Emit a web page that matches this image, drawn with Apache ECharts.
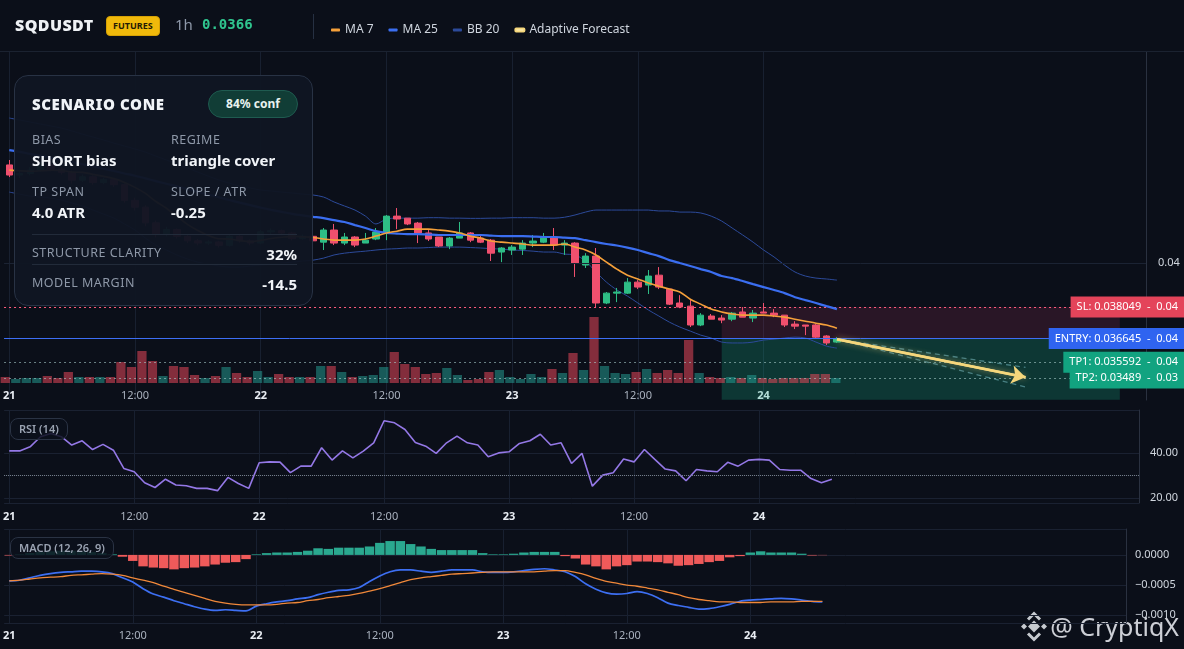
<!DOCTYPE html>
<html>
<head>
<meta charset="utf-8">
<script src="https://cdn.jsdelivr.net/npm/echarts@6/dist/echarts.min.js"></script>
<style>
html, body { margin: 0; padding: 0; background: #0b0f19; }
#wrap { position: relative; width: 1184px; height: 649px; overflow: hidden; font-family: "Noto Sans", "Open Sans", sans-serif; }
#chart { position: absolute; left: 0; top: 0; width: 1184px; height: 649px; }
.ov { position: absolute; pointer-events: none; white-space: nowrap; }
.hdr { left: 0; top: 0; width: 1184px; height: 51px; border-bottom: 1px solid #1b2230; }
.sym { left: 15px; top: 14px; font-size: 16px; font-weight: 900; color: #eef1f5; letter-spacing: 0.4px; }
.badge { left: 106px; top: 16px; height: 18px; line-height: 18px; padding: 0 6px; background: #f0b90b; color: #231b04; font-size: 9px; font-weight: 700; border-radius: 4px; border: 1px solid #d6a104; }
.tf { left: 175px; top: 14px; font-size: 15px; color: #8d97a8; }
.px { left: 202px; top: 16px; font-size: 14px; font-weight: 700; color: #2fc58e; font-family: "DejaVu Sans Mono", monospace; }
.sep { left: 313px; top: 14px; width: 1px; height: 25px; background: #263042; }
.panel { left: 14px; top: 75px; width: 297px; height: 229px; background: rgba(16,22,35,0.97); border: 1px solid #283244; border-radius: 14px; }
.panel div { position: absolute; white-space: nowrap; }
.ttl { left: 17px; top: 18px; font-size: 15px; font-weight: 900; color: #f1f4f8; letter-spacing: 0.6px; }
.pill { left: 193px; top: 14px; width: 88px; height: 26px; line-height: 26px; text-align: center; border-radius: 14px; background: #113d36; border: 1px solid #1f5b50; color: #e8f2ef; font-size: 12px; font-weight: 700; }
.lab { font-size: 12.5px; color: #8e98a8; letter-spacing: 0.5px; }
.val { font-size: 15px; font-weight: 700; color: #f1f4f8; }
.rule { left: 17px; width: 265px; height: 1px; background: #222b3a; }
.tag { height: 20px; line-height: 20px; padding: 0 8px; border: 1px solid #2a3344; border-radius: 8px; background: rgba(12,17,28,0.85); color: #9aa3b2; font-size: 11px; font-weight: 600; }
</style>
</head>
<body>
<div id="wrap">
  <div id="chart"></div>
  <div class="ov hdr"></div>
  <div class="ov sym">SQDUSDT</div>
  <div class="ov badge">FUTURES</div>
  <div class="ov tf">1h</div>
  <div class="ov px">0.0366</div>
  <div class="ov sep"></div>
  <div class="ov panel">
    <div class="ttl">SCENARIO CONE</div>
    <div class="pill">84% conf</div>
    <div class="lab" style="left:17px;top:55px">BIAS</div>
    <div class="lab" style="left:156px;top:55px">REGIME</div>
    <div class="val" style="left:17px;top:74px">SHORT bias</div>
    <div class="val" style="left:156px;top:74px">triangle cover</div>
    <div class="lab" style="left:17px;top:107px">TP SPAN</div>
    <div class="lab" style="left:156px;top:107px">SLOPE / ATR</div>
    <div class="val" style="left:17px;top:126px">4.0 ATR</div>
    <div class="val" style="left:156px;top:126px">-0.25</div>
    <div class="rule" style="top:158px"></div>
    <div class="lab" style="left:17px;top:168px">STRUCTURE CLARITY</div>
    <div class="val" style="right:15px;top:168px">32%</div>
    <div class="rule" style="top:188px"></div>
    <div class="lab" style="left:17px;top:198px">MODEL MARGIN</div>
    <div class="val" style="right:15px;top:198px">-14.5</div>
  </div>
  <div class="ov tag" style="left:10px;top:418px">RSI (14)</div>
  <div class="ov tag" style="left:10px;top:537px">MACD (12, 26, 9)</div>
</div>
<script>
// time axis: 1h slots from 21 00:00, labels every 12h
var dayTicks = ['21', '12:00', '22', '12:00', '23', '12:00', '24'];
var slotCount = 109;

var opens = [
    0.04438, 0.04393, 0.04400, 0.04415, 0.04440, 0.04420, 0.04405, 0.04370, 0.04385, 0.04360,
    0.04372, 0.04350, 0.04280, 0.04250, 0.04180, 0.04130, 0.04150, 0.04120, 0.04100, 0.04090,
    0.04095, 0.04080, 0.04120, 0.04100, 0.04090, 0.04140, 0.04145, 0.04135, 0.04110, 0.04120,
    0.04094, 0.04148, 0.04090, 0.04117, 0.04090, 0.04108, 0.04135, 0.04210, 0.04201, 0.04179,
    0.04135, 0.04117, 0.04077, 0.04112, 0.04135, 0.04112, 0.04103, 0.04050, 0.04059, 0.04063,
    0.04090, 0.04094, 0.04117, 0.04081, 0.04090, 0.03992, 0.04032, 0.03823, 0.03867, 0.03867,
    0.03916, 0.03903, 0.03947, 0.03885, 0.03823, 0.03809, 0.03725, 0.03765, 0.03756, 0.03751,
    0.03783, 0.03756, 0.03783, 0.03778, 0.03769, 0.03729, 0.03725, 0.03725, 0.03676, 0.03649
];
var closes = [
    0.04393, 0.04400, 0.04415, 0.04440, 0.04420, 0.04405, 0.04370, 0.04385, 0.04360, 0.04372,
    0.04350, 0.04280, 0.04250, 0.04180, 0.04130, 0.04150, 0.04120, 0.04100, 0.04090, 0.04095,
    0.04080, 0.04120, 0.04100, 0.04090, 0.04140, 0.04145, 0.04135, 0.04110, 0.04120, 0.04100,
    0.04148, 0.04090, 0.04117, 0.04081, 0.04103, 0.04139, 0.04210, 0.04197, 0.04175, 0.04135,
    0.04108, 0.04077, 0.04112, 0.04135, 0.04103, 0.04094, 0.04045, 0.04068, 0.04072, 0.04090,
    0.04099, 0.04112, 0.04081, 0.04090, 0.04001, 0.04032, 0.03823, 0.03867, 0.03872, 0.03916,
    0.03894, 0.03943, 0.03894, 0.03818, 0.03805, 0.03725, 0.03769, 0.03751, 0.03747, 0.03778,
    0.03760, 0.03778, 0.03778, 0.03769, 0.03725, 0.03720, 0.03720, 0.03671, 0.03645, 0.03665
];
var lows = [
    0.04384, 0.04380, 0.04392, 0.04408, 0.04410, 0.04395, 0.04355, 0.04362, 0.04350, 0.04352,
    0.04340, 0.04270, 0.04235, 0.04165, 0.04115, 0.04120, 0.04110, 0.04090, 0.04080, 0.04082,
    0.04070, 0.04075, 0.04092, 0.04080, 0.04085, 0.04130, 0.04125, 0.04102, 0.04105, 0.04092,
    0.04059, 0.04081, 0.04081, 0.04072, 0.04090, 0.04103, 0.04103, 0.04152, 0.04170, 0.04090,
    0.04099, 0.04072, 0.04063, 0.04112, 0.04094, 0.04090, 0.04010, 0.04005, 0.04037, 0.04037,
    0.04072, 0.04090, 0.04059, 0.04037, 0.03939, 0.03979, 0.03805, 0.03818, 0.03827, 0.03863,
    0.03885, 0.03863, 0.03885, 0.03814, 0.03800, 0.03716, 0.03720, 0.03751, 0.03733, 0.03742,
    0.03760, 0.03738, 0.03778, 0.03760, 0.03716, 0.03707, 0.03680, 0.03667, 0.03636, 0.03645
];
var highs = [
    0.04460, 0.04412, 0.04428, 0.04452, 0.04455, 0.04428, 0.04412, 0.04395, 0.04392, 0.04380,
    0.04378, 0.04355, 0.04292, 0.04258, 0.04190, 0.04162, 0.04155, 0.04128, 0.04108, 0.04102,
    0.04100, 0.04128, 0.04125, 0.04106, 0.04148, 0.04155, 0.04150, 0.04140, 0.04128, 0.04125,
    0.04157, 0.04175, 0.04135, 0.04121, 0.04135, 0.04157, 0.04215, 0.04246, 0.04201, 0.04184,
    0.04148, 0.04117, 0.04117, 0.04184, 0.04139, 0.04126, 0.04108, 0.04072, 0.04081, 0.04103,
    0.04126, 0.04135, 0.04157, 0.04103, 0.04094, 0.04045, 0.04068, 0.03872, 0.03890, 0.03934,
    0.03925, 0.03970, 0.03983, 0.03885, 0.03858, 0.03836, 0.03778, 0.03774, 0.03769, 0.03783,
    0.03805, 0.03792, 0.03823, 0.03796, 0.03769, 0.03742, 0.03725, 0.03729, 0.03680, 0.03671
];
var volumes = [
    6, 4, 5, 5, 7, 5, 11, 6, 6, 6,
    6, 21, 16, 32, 22, 7, 17, 16, 8, 5,
    7, 16, 10, 6, 12, 6, 9, 6, 6, 6,
    17, 17, 11, 6, 7, 8, 16, 31, 19, 16,
    9, 10, 15, 8, 3, 4, 11, 13, 6, 4,
    9, 6, 14, 10, 30, 13, 66, 17, 10, 9,
    11, 14, 10, 13, 10, 43, 10, 6, 5, 6,
    5, 8, 5, 4, 5, 5, 5, 9, 9, 5
];
var ma7 = [
    0.04415, 0.04412, 0.04410, 0.04412, 0.04414, 0.04413, 0.04406, 0.04405, 0.04396, 0.04387,
    0.04377, 0.04360, 0.04338, 0.04311, 0.04275, 0.04245, 0.04209, 0.04173, 0.04146, 0.04124,
    0.04109, 0.04108, 0.04101, 0.04096, 0.04102, 0.04110, 0.04116, 0.04120, 0.04118, 0.04115,
    0.04108, 0.04103, 0.04103, 0.04103, 0.04108, 0.04121, 0.04135, 0.04143, 0.04152, 0.04152,
    0.04152, 0.04148, 0.04143, 0.04135, 0.04121, 0.04112, 0.04099, 0.04094, 0.04090, 0.04086,
    0.04081, 0.04081, 0.04081, 0.04086, 0.04072, 0.04059, 0.04037, 0.04005, 0.03974, 0.03947,
    0.03930, 0.03912, 0.03898, 0.03885, 0.03872, 0.03840, 0.03818, 0.03796, 0.03783, 0.03774,
    0.03769, 0.03769, 0.03769, 0.03765, 0.03760, 0.03751, 0.03742, 0.03733, 0.03725, 0.03711
];
var ma25 = [
    0.04504, 0.04496, 0.04487, 0.04478, 0.04470, 0.04461, 0.04451, 0.04441, 0.04432, 0.04421,
    0.04411, 0.04400, 0.04390, 0.04378, 0.04366, 0.04354, 0.04343, 0.04330, 0.04318, 0.04306,
    0.04294, 0.04282, 0.04270, 0.04259, 0.04248, 0.04238, 0.04229, 0.04220, 0.04213, 0.04207,
    0.04201, 0.04192, 0.04184, 0.04170, 0.04157, 0.04143, 0.04135, 0.04132, 0.04130, 0.04130,
    0.04128, 0.04126, 0.04126, 0.04126, 0.04126, 0.04126, 0.04123, 0.04121, 0.04121, 0.04121,
    0.04119, 0.04117, 0.04117, 0.04114, 0.04112, 0.04103, 0.04094, 0.04086, 0.04079, 0.04070,
    0.04059, 0.04045, 0.04032, 0.04014, 0.04001, 0.03988, 0.03974, 0.03961, 0.03943, 0.03934,
    0.03921, 0.03907, 0.03894, 0.03881, 0.03867, 0.03849, 0.03836, 0.03823, 0.03809, 0.03796
];
var bbUpper = [
    0.04647, 0.04638, 0.04629, 0.04620, 0.04611, 0.04602, 0.04589, 0.04575, 0.04562, 0.04549,
    0.04535, 0.04522, 0.04509, 0.04495, 0.04477, 0.04460, 0.04442, 0.04424, 0.04406, 0.04388,
    0.04371, 0.04357, 0.04344, 0.04335, 0.04326, 0.04322, 0.04317, 0.04313, 0.04308, 0.04304,
    0.04295, 0.04273, 0.04255, 0.04237, 0.04210, 0.04175, 0.04197, 0.04201, 0.04201, 0.04201,
    0.04203, 0.04203, 0.04201, 0.04201, 0.04200, 0.04200, 0.04201, 0.04201, 0.04203, 0.04203,
    0.04203, 0.04201, 0.04201, 0.04205, 0.04215, 0.04228, 0.04237, 0.04237, 0.04237, 0.04237,
    0.04237, 0.04237, 0.04233, 0.04233, 0.04228, 0.04228, 0.04224, 0.04210, 0.04188, 0.04157,
    0.04126, 0.04094, 0.04059, 0.04028, 0.03992, 0.03961, 0.03943, 0.03934, 0.03930, 0.03925
];
var bbLower = [
    0.04317, 0.04308, 0.04299, 0.04295, 0.04290, 0.04281, 0.04268, 0.04255, 0.04237, 0.04219,
    0.04201, 0.04175, 0.04148, 0.04112, 0.04081, 0.04059, 0.04037, 0.04019, 0.04005, 0.03996,
    0.03988, 0.03983, 0.03983, 0.03988, 0.03992, 0.03996, 0.04001, 0.04005, 0.04010, 0.04014,
    0.04023, 0.04037, 0.04045, 0.04050, 0.04054, 0.04059, 0.04063, 0.04065, 0.04068, 0.04068,
    0.04070, 0.04072, 0.04072, 0.04072, 0.04070, 0.04068, 0.04065, 0.04063, 0.04059, 0.04057,
    0.04054, 0.04050, 0.04050, 0.04041, 0.04037, 0.04010, 0.03961, 0.03916, 0.03881, 0.03854,
    0.03823, 0.03792, 0.03765, 0.03738, 0.03716, 0.03698, 0.03680, 0.03667, 0.03649, 0.03645,
    0.03645, 0.03649, 0.03658, 0.03662, 0.03667, 0.03671, 0.03667, 0.03649, 0.03631, 0.03622
];
var rsi = [
    41.0, 41.0, 42.8, 47.3, 48.7, 47.3, 43.6, 45.5, 41.6, 43.9,
    41.3, 33.2, 31.7, 26.8, 24.7, 28.4, 25.8, 25.5, 24.3, 24.3,
    23.3, 29.2, 26.5, 24.3, 35.7, 36.1, 36.0, 31.3, 34.2, 34.2,
    42.4, 36.9, 41.0, 37.9, 40.9, 44.6, 54.4, 53.5, 50.5, 44.7,
    43.1, 39.9, 44.6, 47.6, 44.6, 43.6, 38.4, 40.1, 40.6, 44.3,
    45.5, 48.4, 43.6, 44.6, 35.4, 39.9, 25.3, 30.2, 31.3, 37.4,
    36.1, 41.6, 37.2, 32.9, 32.1, 27.7, 32.7, 32.1, 31.7, 35.9,
    34.2, 36.9, 37.2, 36.9, 32.7, 32.4, 32.4, 28.7, 26.8, 28.4
];
var macdHist = [
    -0.00001, 0.00001, 0.00003, 0.00005, 0.00006, 0.00007, 0.00007, 0.00006, 0.00005, 0.00003,
    0.00001, -0.00003, -0.00010, -0.00019, -0.00021, -0.00022, -0.00024, -0.00022, -0.00021, -0.00019,
    -0.00016, -0.00013, -0.00012, -0.00007, 0.00001, 0.00003, 0.00004, 0.00004, 0.00005, 0.00007,
    0.00011, 0.00010, 0.00012, 0.00012, 0.00012, 0.00014, 0.00020, 0.00023, 0.00023, 0.00018,
    0.00014, 0.00010, 0.00008, 0.00008, 0.00008, 0.00008, 0.00003, 0.00001, 0.00001, 0.00002,
    0.00004, 0.00005, 0.00005, 0.00005, -0.00002, -0.00006, -0.00016, -0.00019, -0.00024, -0.00019,
    -0.00017, -0.00011, -0.00011, -0.00012, -0.00014, -0.00018, -0.00017, -0.00015, -0.00012, -0.00010,
    -0.00004, -0.00002, 0.00004, 0.00006, 0.00004, 0.00004, 0.00004, 0.00002, -0.00001, -0.000005
];
var macdLine = [
    -0.00043, -0.00042, -0.00038, -0.00034, -0.00031, -0.00029, -0.00028, -0.00027, -0.00027, -0.00028,
    -0.00031, -0.00038, -0.00045, -0.00056, -0.00065, -0.00070, -0.00076, -0.00081, -0.00086, -0.00090,
    -0.00092, -0.00091, -0.00092, -0.00093, -0.00085, -0.00081, -0.00078, -0.00076, -0.00073, -0.00071,
    -0.00066, -0.00062, -0.00059, -0.00058, -0.00054, -0.00044, -0.00035, -0.00028, -0.00025, -0.00025,
    -0.00027, -0.00029, -0.00027, -0.00025, -0.00025, -0.00025, -0.00028, -0.00029, -0.00029, -0.00028,
    -0.00026, -0.00024, -0.00023, -0.00025, -0.00028, -0.00036, -0.00048, -0.00057, -0.00063, -0.00065,
    -0.00064, -0.00061, -0.00064, -0.00071, -0.00080, -0.00084, -0.00087, -0.00090, -0.00089, -0.00086,
    -0.00082, -0.00077, -0.00075, -0.00074, -0.00073, -0.00072, -0.00073, -0.00075, -0.00077, -0.00078
];
var macdSignal = [
    -0.00043, -0.00042, -0.00040, -0.00038, -0.00037, -0.00036, -0.00034, -0.00033, -0.00032, -0.00031,
    -0.00032, -0.00034, -0.00038, -0.00042, -0.00046, -0.00052, -0.00057, -0.00062, -0.00067, -0.00072,
    -0.00077, -0.00080, -0.00082, -0.00083, -0.00083, -0.00083, -0.00082, -0.00080, -0.00079, -0.00076,
    -0.00074, -0.00071, -0.00069, -0.00067, -0.00064, -0.00060, -0.00056, -0.00051, -0.00046, -0.00041,
    -0.00038, -0.00036, -0.00034, -0.00032, -0.00031, -0.00030, -0.00029, -0.00028, -0.00028, -0.00028,
    -0.00028, -0.00028, -0.00027, -0.00026, -0.00026, -0.00029, -0.00033, -0.00039, -0.00044, -0.00047,
    -0.00050, -0.00052, -0.00055, -0.00058, -0.00062, -0.00066, -0.00071, -0.00074, -0.00076, -0.00078,
    -0.00078, -0.00079, -0.00079, -0.00079, -0.00078, -0.00078, -0.00078, -0.00077, -0.00077, -0.00077
];

// trade levels and forecast
var SL = 0.038049, ENTRY = 0.036645, TP1 = 0.035592, TP2 = 0.03489;
var zoneSlots = [68, 106];
var zoneFloor = 0.03392;
var fcSlots = [79, 97];
var fcPath = [0.03662, 0.03492];
var coneHigh = [0.03662, 0.03536];
var coneLow = [0.03662, 0.03449];

var upColor = '#2ebd85', downColor = '#f0506e';
var font = '"Noto Sans", "Open Sans", sans-serif';

var slots = [];
for (var s = 0; s < slotCount; s++) slots.push('h' + s);

function tickShown(i) {
    return i % 12 === 0 && i / 12 < dayTicks.length;
}

function timeAxis(gridIndex, showLabels, margin) {
    return {
        type: 'category',
        gridIndex: gridIndex,
        data: slots,
        boundaryGap: true,
        axisLine: { show: false },
        axisTick: { show: false },
        axisLabel: {
            show: showLabels,
            interval: function(i) { return tickShown(i); },
            margin: margin,
            formatter: function(v, i) {
                var t = dayTicks[i / 12];
                return t.indexOf(':') > 0 ? '{t|' + t + '}' : '{d|' + t + '}';
            },
            rich: {
                d: { color: '#e9edf3', fontWeight: 'bold', fontSize: 11, fontFamily: font },
                t: { color: '#aab2bf', fontSize: 11, fontFamily: font }
            }
        },
        splitLine: {
            show: showLabels,
            alignWithLabel: true,
            interval: function(i) { return tickShown(i); },
            lineStyle: { color: '#182030', width: 1 }
        }
    };
}

function pairs(idx, vals) {
    return idx.map(function(x, k) { return [x, vals[k]]; });
}

function levelLabel(name, value, bg) {
    return {
        show: true,
        position: 'end',
        align: 'right',
        distance: 38,
        formatter: name + ': ' + value + '  -  ' + value.toFixed(2),
        color: '#ffffff',
        fontSize: 11,
        fontFamily: font,
        backgroundColor: bg,
        padding: [4, 6, 3, 6],
        lineHeight: 14
    };
}

var candleData = opens.map(function(o, i) {
    return [o, closes[i], lows[i], highs[i]];
});
var volumeData = volumes.map(function(v, i) {
    return {
        value: v,
        itemStyle: { color: closes[i] >= opens[i] ? 'rgba(38,166,154,0.5)' : 'rgba(242,72,92,0.52)' }
    };
});
var histData = macdHist.map(function(v) {
    return { value: v, itemStyle: { color: v >= 0 ? '#2aa88f' : '#ef5a5a' } };
});

var chart = echarts.init(document.getElementById('chart'));
var option = {
    animation: false,
    backgroundColor: '#0b0f19',
    textStyle: { fontFamily: font },
    legend: {
        data: ['MA 7', 'MA 25', 'BB 20', 'Adaptive Forecast'],
        left: 326,
        top: 19,
        icon: 'roundRect',
        itemWidth: 9,
        itemHeight: 3,
        itemGap: 15,
        selectedMode: false,
        textStyle: { color: '#cfd5de', fontSize: 12, fontFamily: font }
    },
    grid: [
        { left: 0, right: 38, top: 52, height: 348 },
        { left: 0, right: 38, top: 300, height: 83 },
        { left: 0, right: 45, top: 410, height: 93 },
        { left: 0, right: 58, top: 529, height: 94 }
    ],
    xAxis: [timeAxis(0, true, -10), timeAxis(1, false, 0), timeAxis(2, true, 8), timeAxis(3, true, 7)],
    yAxis: [{
        type: 'value',
        gridIndex: 0,
        position: 'right',
        min: 0.03391,
        max: 0.04941,
        axisLine: { show: true, lineStyle: { color: '#2a3140' } },
        axisTick: { show: false },
        splitLine: { show: false },
        axisLabel: {
            customValues: [0.04],
            margin: 12,
            color: '#d0d6de',
            fontSize: 11,
            formatter: function(v) { return Math.abs(v - 0.04) < 1e-9 ? v.toFixed(2) : ''; }
        }
    }, {
        type: 'value',
        gridIndex: 1,
        show: false,
        min: 0,
        max: 83
    }, {
        type: 'value',
        gridIndex: 2,
        position: 'right',
        min: 17.8,
        max: 59.2,
        splitNumber: 2,
        axisLine: { show: true, lineStyle: { color: '#2a3140' } },
        axisTick: { show: false },
        splitLine: { lineStyle: { color: '#1a2131' } },
        axisLabel: {
            showMinLabel: false,
            showMaxLabel: false,
            margin: 11,
            color: '#d0d6de',
            fontSize: 11,
            formatter: function(v) { return v.toFixed(2); }
        }
    }, {
        type: 'value',
        gridIndex: 3,
        position: 'right',
        min: -0.00113,
        max: 0.00043,
        splitNumber: 3,
        axisLine: { show: true, lineStyle: { color: '#2a3140' } },
        axisTick: { show: false },
        splitLine: { lineStyle: { color: '#1a2131' } },
        axisLabel: {
            showMinLabel: false,
            showMaxLabel: false,
            margin: 9,
            color: '#d0d6de',
            fontSize: 11,
            formatter: function(v) { return v.toFixed(4).replace('-', '\u2212'); }
        }
    }],
    series: [{
        name: 'Cone hi',
        type: 'line',
        xAxisIndex: 0,
        yAxisIndex: 0,
        data: pairs(fcSlots, coneHigh),
        symbol: 'none',
        z: 3,
        lineStyle: { color: 'rgba(110,175,185,0.6)', width: 1.3, type: [5, 4] },
        markArea: {
            silent: true,
            data: [
                [{ xAxis: zoneSlots[0], yAxis: SL, itemStyle: { color: 'rgba(200,60,110,0.16)' } },
                 { xAxis: zoneSlots[1], yAxis: ENTRY }],
                [{ xAxis: zoneSlots[0], yAxis: ENTRY, itemStyle: { color: 'rgba(18,175,135,0.25)' } },
                 { xAxis: zoneSlots[1], yAxis: zoneFloor }]
            ]
        }
    }, {
        name: 'Cone lo',
        type: 'line',
        xAxisIndex: 0,
        yAxisIndex: 0,
        data: pairs(fcSlots, coneLow),
        symbol: 'none',
        z: 3,
        lineStyle: { color: 'rgba(110,175,185,0.6)', width: 1.3, type: [5, 4] }
    }, {
        name: 'Volume',
        type: 'bar',
        xAxisIndex: 1,
        yAxisIndex: 1,
        data: volumeData,
        barCategoryGap: '12%',
        z: 2
    }, {
        name: 'BB 20',
        type: 'line',
        data: bbUpper,
        symbol: 'none',
        smooth: 0.3,
        color: '#2c4a9a',
        lineStyle: { width: 1, color: '#2c4a9a' },
        z: 3
    }, {
        name: 'BB 20',
        type: 'line',
        data: bbLower,
        symbol: 'none',
        smooth: 0.3,
        color: '#2c4a9a',
        lineStyle: { width: 1, color: '#2c4a9a' },
        z: 3,
        markLine: {
            silent: true,
            symbol: 'none',
            precision: 8,
            label: { show: false },
            data: [
                { yAxis: 0.04, lineStyle: { color: '#1b2333', type: 'solid', width: 1 } },
                { yAxis: SL, lineStyle: { color: '#ff5a7c', type: [2, 3], width: 1 }, label: levelLabel('SL', SL, '#e4445a') },
                { yAxis: ENTRY, lineStyle: { color: '#3d6ef5', type: 'solid', width: 1 }, label: levelLabel('ENTRY', ENTRY, '#2f64f0') },
                { yAxis: TP1, lineStyle: { color: 'rgba(170,205,205,0.6)', type: [2, 3], width: 1 }, label: levelLabel('TP1', TP1, '#12a380') },
                { yAxis: TP2, lineStyle: { color: 'rgba(170,205,205,0.6)', type: [2, 3], width: 1 }, label: levelLabel('TP2', TP2, '#12a380') }
            ]
        }
    }, {
        name: 'K',
        type: 'candlestick',
        data: candleData,
        barWidth: '66%',
        z: 4,
        itemStyle: { color: upColor, color0: downColor, borderColor: upColor, borderColor0: downColor }
    }, {
        name: 'MA 25',
        type: 'line',
        data: ma25,
        symbol: 'none',
        smooth: 0.3,
        color: '#3b6ef0',
        lineStyle: { width: 2.2, color: '#3b6ef0' },
        z: 5
    }, {
        name: 'MA 7',
        type: 'line',
        data: ma7,
        symbol: 'none',
        smooth: 0.3,
        color: '#f5a03a',
        lineStyle: { width: 1.6, color: '#f5a03a' },
        z: 5
    }, {
        name: 'Adaptive Forecast',
        type: 'line',
        data: [
            { value: [fcSlots[0], fcPath[0]], symbol: 'circle', symbolSize: 8 },
            { value: [fcSlots[1], fcPath[1]], symbol: 'none' }
        ],
        showSymbol: true,
        color: '#f6d77c',
        itemStyle: { color: '#fbefc0', borderColor: '#f6d77c', borderWidth: 1.5, shadowBlur: 12, shadowColor: 'rgba(246,215,124,0.9)' },
        lineStyle: { color: '#f6d77c', width: 2.5, shadowBlur: 6, shadowColor: 'rgba(246,215,124,0.6)' },
        z: 7,
        markLine: {
            silent: true,
            symbol: ['none', 'arrow'],
            symbolSize: 14,
            precision: 8,
            label: { show: false },
            lineStyle: { color: '#f6d77c', width: 2.5, type: 'solid' },
            data: [[{ coord: [fcSlots[0], fcPath[0]] }, { coord: [fcSlots[1], fcPath[1]] }]]
        }
    }, {
        name: 'RSI',
        type: 'line',
        xAxisIndex: 2,
        yAxisIndex: 2,
        data: rsi,
        symbol: 'none',
        color: '#9478e6',
        lineStyle: { width: 1.6, color: '#9478e6' },
        markLine: {
            silent: true,
            symbol: 'none',
            label: { show: false },
            lineStyle: { color: '#7c8594', type: 'dotted', width: 1 },
            data: [{ yAxis: 30 }]
        }
    }, {
        name: 'Histogram',
        type: 'bar',
        xAxisIndex: 3,
        yAxisIndex: 3,
        data: histData,
        barCategoryGap: '8%'
    }, {
        name: 'MACD',
        type: 'line',
        xAxisIndex: 3,
        yAxisIndex: 3,
        data: macdLine,
        symbol: 'none',
        smooth: 0.3,
        color: '#3d6ff2',
        lineStyle: { width: 1.7, color: '#3d6ff2' }
    }, {
        name: 'Signal',
        type: 'line',
        xAxisIndex: 3,
        yAxisIndex: 3,
        data: macdSignal,
        symbol: 'none',
        smooth: 0.3,
        color: '#f0883a',
        lineStyle: { width: 1.3, color: '#f0883a' }
    }],
    graphic: [{
        type: 'group',
        left: 1021,
        top: 611,
        children: [
            { type: 'polygon', shape: { points: [[13, 8], [19, 14], [13, 20], [7, 14]] }, style: { fill: 'rgba(232,235,240,0.85)' } },
            { type: 'polygon', shape: { points: [[3, 11], [6, 14], [3, 17], [0, 14]] }, style: { fill: 'rgba(232,235,240,0.85)' } },
            { type: 'polygon', shape: { points: [[23, 11], [26, 14], [23, 17], [20, 14]] }, style: { fill: 'rgba(232,235,240,0.85)' } },
            { type: 'polyline', shape: { points: [[7, 7], [13, 1], [19, 7]] }, style: { stroke: 'rgba(232,235,240,0.85)', lineWidth: 3, fill: null } },
            { type: 'polyline', shape: { points: [[7, 21], [13, 27], [19, 21]] }, style: { stroke: 'rgba(232,235,240,0.85)', lineWidth: 3, fill: null } }
        ]
    }, {
        type: 'text',
        right: 5,
        bottom: 8,
        style: { text: '@ CryptiqX', fill: 'rgba(232,235,240,0.88)', font: '25px "Noto Sans", sans-serif' }
    }]
};
chart.setOption(option);
</script>
</body>
</html>
